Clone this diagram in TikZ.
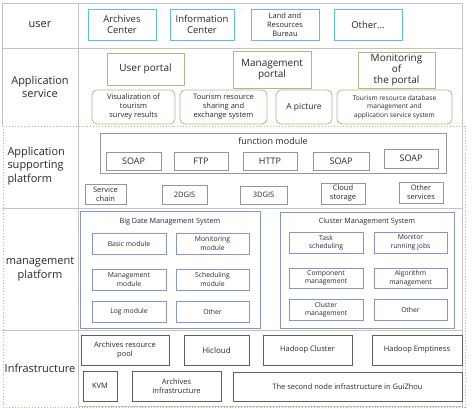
\documentclass[tikz,border=0pt]{standalone}
\usepackage{fontspec}
\setmainfont{Open Sans}
\definecolor{frameg}{RGB}{195,195,195}
\definecolor{orng}{RGB}{240,165,120}
\definecolor{ublue}{RGB}{95,190,225}
\definecolor{sgreen}{RGB}{165,190,135}
\definecolor{fgray}{RGB}{150,150,150}
\definecolor{mblue}{RGB}{135,150,200}
\definecolor{igray}{RGB}{95,95,95}
\definecolor{txt}{RGB}{40,40,40}
\newcommand\fs[2]{\fontsize{#1}{#2}\selectfont}
% \bx{name}{x1}{y1}{x2}{y2}{style}{text}
\newcommand\bx[7]{\node[#6, minimum width={(#4-#2)*1pt}, minimum height={(#5-#3)*1pt}] (#1) at ({(#2+#4)/2},{(#3+#5)/2}) {#7};}
\begin{document}
\begin{tikzpicture}[x=1pt,y=-1pt,
  every node/.style={inner sep=0.5pt, outer sep=0pt, text=txt, align=center},
  ubox/.style={draw=ublue, line width=0.9pt, font=\fs{9.5}{11}},
  gbox/.style={draw=sgreen, line width=0.8pt, font=\fs{10}{11.5}},
  grbox/.style={draw=sgreen, line width=0.8pt, rounded corners=5pt, font=\fs{7.5}{9}},
  fbox/.style={draw=fgray, line width=0.7pt, font=\fs{9}{10}},
  sbox/.style={draw=fgray, line width=0.7pt, font=\fs{7.5}{9}},
  mbig/.style={draw=mblue, line width=0.8pt},
  mbox/.style={draw=mblue, line width=0.8pt, font=\fs{6.8}{8.5}},
  ibox/.style={draw=igray, line width=0.8pt, font=\fs{7.5}{9}},
  lbl/.style={font=\fs{11}{13.5}},
  frame/.style={draw=frameg, line width=0.8pt}
]
\useasboundingbox (0,0) rectangle (474,409);
% frame
\draw[frame] (2,126) -- (2,3) -- (462,3) -- (462,406) -- (78,406);
\draw[frame] (78,3) -- (78,406);
\draw[frame] (2,48) -- (462,48);
\draw[frame] (2,208) -- (462,208);
\draw[frame] (2,330) -- (462,330);
\draw[orng, line width=0.9pt, dotted] (3,126) rectangle (465,407);
% left labels
\node[lbl] (luser) at (40,25) {user};
\node[lbl] (lapp) at (40,87) {Application\\service};
\node[lbl, align=left, anchor=west] (lsup) at (7,166) {Application\\supporting\\platform};
\node[lbl] (lman) at (40,269) {management\\platform};
\node[lbl] (linf) at (40,368) {Infrastructure};
% user row
\bx{u1}{88}{9}{156}{40}{ubox}{Archives\\Center}
\bx{u2}{170}{9}{234}{40}{ubox}{Information\\Center}
\bx{u3}{251}{9}{319}{40}{ubox, font=\fs{7.5}{9}}{Land and\\Resources\\Bureau}
\bx{u4}{334}{9}{402}{40}{ubox}{Other...}
% application service
\bx{a1}{107}{53}{184}{85}{gbox}{User portal}
\bx{a2}{233}{51}{311}{88}{gbox}{Management\\portal}
\bx{a3}{358}{52}{435}{88}{gbox, font=\fs{10}{11}}{Monitoring\\of\\the portal}
\bx{a4}{92}{90}{175}{124}{grbox}{Visualization of\\tourism\\survey results}
\bx{a5}{180}{90}{267}{124}{grbox}{Tourism resource\\sharing and\\exchange system}
\bx{a6}{276}{90}{332}{124}{grbox, font=\fs{8.5}{10}}{A picture}
\bx{a7}{337}{90}{452}{124}{grbox, font=\fs{6.6}{8.5}}{Tourism resource database\\management and\\application service system}
% application supporting
\bx{fm}{100}{133}{446}{173}{draw=fgray, line width=0.7pt}{}
\node[font=\fs{9}{10}] (fmt) at (273,141) {function module};
\bx{f1}{106}{152}{161}{170}{fbox}{SOAP}
\bx{f2}{174}{152}{228}{170}{fbox}{FTP}
\bx{f3}{243}{152}{297}{170}{fbox}{HTTP}
\bx{f4}{313}{152}{369}{170}{fbox}{SOAP}
\bx{f5}{384}{149}{438}{168}{fbox}{SOAP}
\bx{s1}{85}{184}{126}{204}{sbox}{Service\\chain}
\bx{s2}{162}{185}{207}{204}{sbox}{2DGIS}
\bx{s3}{240}{186}{287}{204}{sbox}{3DGIS}
\bx{s4}{321}{183}{365}{204}{sbox}{Cloud\\storage}
\bx{s5}{399}{182}{443}{203}{sbox}{Other\\services}
% management
\bx{bd}{80}{211}{260}{328}{mbig}{}
\node[font=\fs{7.2}{9}] (bdt) at (170,222) {Big Date Management System};
\bx{b1}{92}{233}{166}{254}{mbox}{Basic module}
\bx{b2}{176}{233}{249}{254}{mbox}{Monitoring\\module}
\bx{b3}{92}{269}{166}{290}{mbox}{Management\\module}
\bx{b4}{176}{269}{249}{290}{mbox}{Scheduling\\module}
\bx{b5}{92}{301}{166}{322}{mbox}{Log module}
\bx{b6}{176}{301}{249}{322}{mbox}{Other}
\bx{cm}{280}{212}{454}{328}{mbig}{}
\node[font=\fs{7.2}{9}] (cmt) at (367,222) {Cluster Management System};
\bx{c1}{289}{232}{363}{253}{mbox}{Task\\scheduling}
\bx{c2}{374}{232}{447}{253}{mbox}{Monitor\\running jobs}
\bx{c3}{289}{268}{363}{288}{mbox}{Component\\management}
\bx{c4}{374}{268}{447}{288}{mbox}{Algorithm\\management}
\bx{c5}{289}{299}{363}{320}{mbox}{Cluster\\management}
\bx{c6}{374}{299}{447}{320}{mbox}{Other}
% infrastructure
\bx{i1}{81}{335}{169}{365}{ibox}{Archives resource\\pool}
\bx{i2}{184}{335}{249}{365}{ibox, font=\fs{8}{9}}{Hicloud}
\bx{i3}{263}{335}{352}{365}{ibox}{Hadoop Cluster}
\bx{i4}{372}{335}{462}{365}{ibox}{Hadoop Emptiness}
\bx{i5}{83}{371}{117}{401}{ibox}{KVM}
\bx{i6}{132}{371}{221}{401}{ibox}{Archives\\infrastructure}
\bx{i7}{233}{372}{462}{401}{ibox}{The second node infrastructure in GuiZhou}
\end{tikzpicture}
\end{document}
